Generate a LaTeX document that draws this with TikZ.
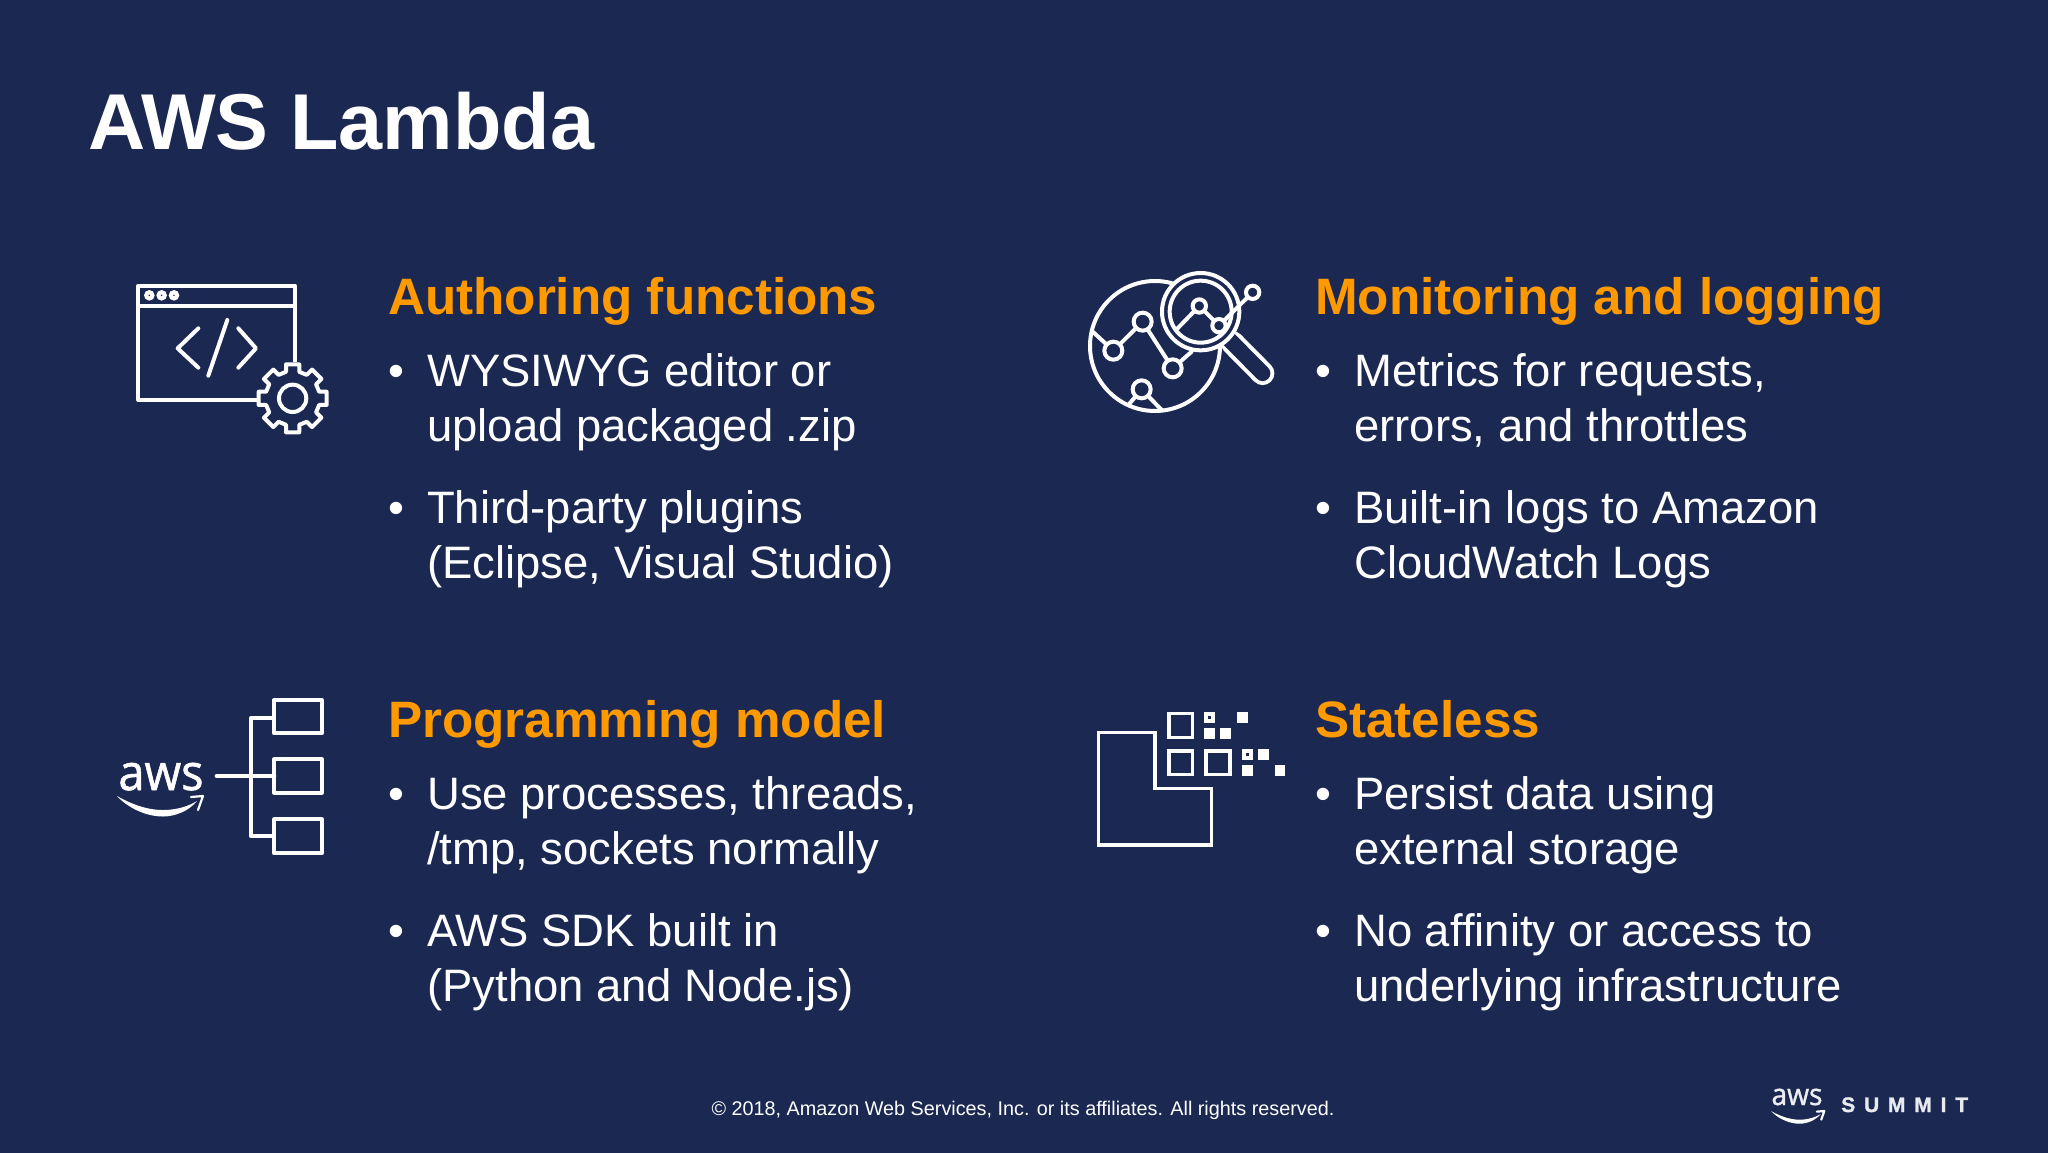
\documentclass[tikz,border=0pt]{standalone}
\usepackage{fontspec}
\setmainfont{Liberation Sans}
\newfontfamily\summitfont[LetterSpace=42,FakeBold=1.2]{Liberation Sans}
\newfontfamily\logofont[FakeBold=1.2]{Open Sans}
\definecolor{bg}{HTML}{1A2852}
\definecolor{awsorange}{HTML}{FF9900}
\tikzset{
  titletext/.style={anchor=base west,inner sep=0pt,text=white,font=\fontsize{79.2}{90}\selectfont\bfseries},
  headtext/.style={anchor=base west,inner sep=0pt,text=awsorange,font=\fontsize{51.2}{60}\selectfont\bfseries},
  bodytext/.style={anchor=base west,inner sep=0pt,text=white,align=left,font=\fontsize{45.45}{54.6}\selectfont},
  foottext/.style={anchor=base,inner sep=0pt,text=white,font=\fontsize{19.8}{24}\selectfont},
  ic/.style={draw=white,line width=4pt,line join=round},
  icr/.style={draw=white,line width=4pt,line cap=round,line join=round},
  ict/.style={draw=white,line width=4pt,line join=round,line cap=round},
  ring/.style={draw=white,line width=4pt,fill=bg},
  sqr/.style={draw=white,line width=3.6pt},
}
\newcommand{\bulletitem}[5]{%
  \node[bodytext] (#1b) at (#2-39,#3-54.6) {•};
  \node[bodytext] (#1) at (#2,#3) {#4\\#5};}
\newcommand{\awssmile}[3]{% x y scale
  \begin{scope}[shift={(#1,#2)},scale=#3]
    \fill[white] (0,0) .. controls (14,8) and (30,14) .. (46,14) .. controls (60,14) and (72,10) .. (80,5)
      .. controls (72,15) and (58,20.5) .. (46,20.5) .. controls (28,20.5) and (10,11) .. (0,0) -- cycle;
    \draw[white,line width=2.2pt,line cap=round,line join=round] (74,1) -- (86,0) -- (81,14);
  \end{scope}}
\begin{document}
\begin{tikzpicture}[x=1pt,y=-1pt]
\useasboundingbox (0,0) rectangle (2048,1152);
\fill[bg] (-4,-4) rectangle (2052,1156);

\node[titletext] (title) at (88,149) {AWS Lambda};

% Section texts
\node[headtext] (h1) at (388,314) {Authoring functions};
\bulletitem{a1}{427}{441}{WYSIWYG editor or}{upload packaged .zip}
\bulletitem{a2}{427}{578}{Third-party plugins}{(Eclipse, Visual Studio)}

\node[headtext] (h2) at (1315,314) {Monitoring and logging};
\bulletitem{b1}{1354}{441}{Metrics for requests,}{errors, and throttles}
\bulletitem{b2}{1354}{578}{Built-in logs to Amazon}{CloudWatch Logs}

\node[headtext] (h3) at (388,737) {Programming model};
\bulletitem{c1}{427}{864}{Use processes, threads,}{/tmp, sockets normally}
\bulletitem{c2}{427}{1001}{AWS SDK built in}{(Python and Node.js)}

\node[headtext] (h4) at (1315,737) {Stateless};
\bulletitem{d1}{1354}{864}{Persist data using}{external storage}
\bulletitem{d2}{1354}{1001}{No affinity or access to}{underlying infrastructure}

\node[foottext] (foot) at (1023,1115) {© 2018, Amazon Web Services, Inc. or its affiliates. All rights reserved.};

% Icon 1: code window with gear
\begin{scope}[shift={(110,260)},x=0.3333pt,y=-0.3333pt]
  \draw[ic] (555,305) -- (555,77) -- (85,77) -- (85,420) -- (440,420);
  \draw[ic] (85,138) -- (555,138);
  \foreach \x in {118,155,192} {
    \fill[white] (\x,106) circle (16);
    \fill[bg] (\x,106) circle (2.5);
  }
  \draw[icr] (265,205) -- (203,265) -- (265,323);
  \draw[icr] (385,205) -- (438,265) -- (385,323);
  \draw[icr] (352,180) -- (295,347);
  \begin{scope}[shift={(548,415)}]
    \draw[ic] (-11:104)
      \foreach \a in {0,45,...,315} {
        -- (\a-11:104) -- (\a+11:104) -- (\a+14:82) -- (\a+31:82)
      } -- cycle;
    \draw[ic] (0,0) circle (41);
  \end{scope}
\end{scope}

% Icon 2: chart and magnifier
\begin{scope}[shift={(1070,260)},x=0.3333pt,y=-0.3333pt]
  \draw[ict] (255,258) circle (195);
  \draw[ict] (68,215) -- (130,272) -- (218,185) -- (308,325) -- (365,275);
  \draw[ict] (175,435) -- (215,388) -- (275,450);
  \foreach \x/\y in {130/272,218/185,308/325,215/388} {
    \draw[ring] (\x,\y) circle (27);
  }
  \draw[draw=white,line width=23.5pt,line cap=round] (487,248) -- (578,340);
  \draw[draw=bg,line width=15.5pt,line cap=round] (478,239) -- (578,340);
  \draw[ict,fill=bg] (392,155) circle (116);
  \draw[ict] (392,155) circle (93);
  \draw[ict] (318,210) -- (388,138) -- (447,197) -- (548,97);
  \draw[ring] (388,138) circle (20);
  \draw[ring] (447,197) circle (20);
  \draw[ring] (548,97) circle (20);
\end{scope}

% Icon 3: aws with tree
\begin{scope}[shift={(100,680)},x=0.3333pt,y=-0.3333pt]
  \draw[ic] (523,60) rectangle (665,160);
  \draw[ic] (523,238) rectangle (665,338);
  \draw[ic] (523,418) rectangle (665,520);
  \draw[ic] (523,115) -- (452,115) -- (452,468) -- (523,468);
  \draw[icr] (350,288) -- (523,288);
\end{scope}
\node[anchor=base,inner sep=0pt,text=white,xscale=0.94,font=\logofont\fontsize{50}{50}\selectfont] (aws1) at (161,790) {aws};
\awssmile{117}{796}{1}

% Icon 4: stateless blocks
\begin{scope}[shift={(1080,690)},x=0.3333pt,y=-0.3333pt]
  \draw[sqr] (55,127) -- (225,127) -- (225,295) -- (395,295) -- (395,465) -- (55,465) -- cycle;
  \draw[sqr] (267,70) rectangle (338,143);
  \draw[sqr] (267,183) rectangle (338,253);
  \draw[sqr] (378,183) rectangle (450,253);
  \foreach \x/\y in {388/131,437/131,487/82,551/194,502/242,600/242} {
    \fill[white] (\x-16,\y-16) rectangle (\x+16,\y+16);
  }
  \foreach \x/\y in {388/82,502/194} {
    \fill[white] (\x-16,\y-16) rectangle (\x+16,\y+16);
    \fill[bg] (\x-5,\y-5) rectangle (\x+5,\y+5);
  }
\end{scope}

% Summit logo
\node[anchor=base,inner sep=0pt,text=white!92!bg,xscale=0.94,font=\logofont\fontsize{30}{30}\selectfont] (aws2) at (1797,1105) {aws};
\awssmile{1771}{1111}{0.62}
\node[anchor=base west,inner sep=0pt,text=white!90!bg,font=\summitfont\bfseries\fontsize{21}{21}\selectfont] (summit) at (1841,1112) {SUMMIT};
\end{tikzpicture}
\end{document}
